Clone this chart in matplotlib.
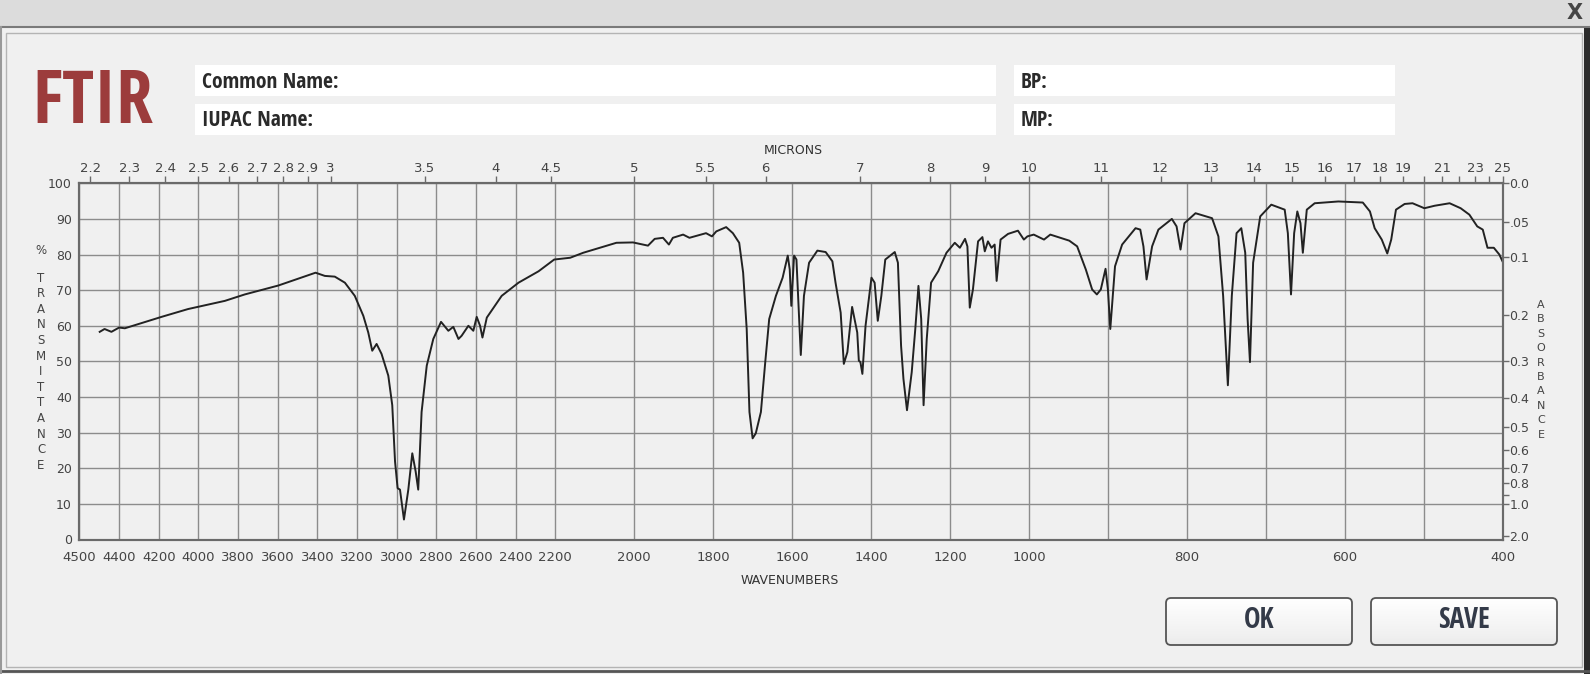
import numpy as np
import matplotlib
matplotlib.use("Agg")
import matplotlib.pyplot as plt
from matplotlib.patches import Rectangle, FancyBboxPatch

# --- spectrum (wavenumber in cm-1, %T) ---
wavenumber = [4448, 4436, 4419, 4400, 4371, 4186, 4052, 3866, 3766, 3597,
              3409, 3362, 3312, 3261, 3211, 3168, 3143, 3123, 3101, 3076,
              3042, 3022, 3008, 2995, 2983, 2963, 2941, 2921, 2904, 2891,
              2874, 2848, 2815, 2776, 2739, 2714, 2688, 2672, 2638, 2613,
              2596, 2579, 2567, 2545, 2470, 2385, 2284, 2205,
              2162, 2129, 2087, 2045, 2003, 1965, 1948, 1927, 1912, 1902,
              1876, 1860, 1818, 1803, 1792, 1767, 1750, 1734, 1724, 1715,
              1708, 1700, 1692, 1679, 1668, 1658, 1641, 1624, 1611, 1606,
              1602, 1595, 1589, 1582, 1578, 1570, 1557, 1536, 1515, 1498,
              1490, 1477, 1469, 1460, 1448, 1435, 1431, 1427, 1422, 1414,
              1399, 1391, 1383, 1374, 1364, 1340, 1332, 1324, 1318, 1309,
              1297, 1288, 1280, 1273, 1267, 1259, 1248, 1230, 1209, 1188,
              1175, 1162, 1156, 1150, 1142, 1129, 1118, 1112, 1104, 1095,
              1087, 1082, 1072, 1053, 1028, 1013, 1004,
              994, 981, 973, 949, 939, 928, 920, 914, 909, 903,
              900, 897, 891, 882, 865, 859, 855, 851, 844, 836,
              819, 813, 808, 803, 789, 768, 760, 754, 748, 743,
              737, 731, 726, 723, 720, 716, 707, 693, 676, 672,
              668, 664, 660, 656, 653, 648, 638, 608, 577, 568,
              562, 553, 546, 541, 535, 524, 514, 499, 486, 467,
              453, 442, 432, 425, 419, 411, 404, 400]
transmittance = [58.3, 59.1, 58.3, 59.5, 59.3, 62.5, 64.7, 67.0, 68.8, 71.3,
                 74.9, 74.0, 73.8, 72.1, 68.4, 62.8, 58.1, 53.0, 54.9, 52.1,
                 46.0, 37.7, 21.9, 14.4, 14.0, 5.6, 14.0, 24.2, 19.1, 14.0,
                 35.8, 48.8, 56.3, 61.1, 58.6, 59.7, 56.3, 57.2, 60.0, 58.6,
                 62.5, 60.0, 56.7, 62.3, 68.4, 72.1, 75.3, 78.6,
                 79.1, 80.5, 81.9, 83.3, 83.4, 82.5, 84.4, 84.7, 82.8, 84.7,
                 85.6, 84.7, 86.0, 85.1, 86.5, 87.7, 86.0, 83.3, 74.9, 59.1,
                 35.8, 28.4, 29.8, 35.8, 49.8, 61.9, 68.4, 73.5, 79.7, 75.8,
                 65.6, 79.7, 78.6, 61.9, 51.8, 68.4, 77.7, 81.1, 80.7, 78.1,
                 72.1, 63.7, 49.3, 52.6, 65.3, 58.1, 50.2, 49.8, 46.5, 60.0,
                 73.5, 72.1, 61.4, 68.4, 78.6, 80.7, 77.7, 54.4, 45.1, 36.3,
                 47.0, 59.1, 71.2, 61.9, 37.7, 56.3, 72.1, 75.3, 80.5, 83.3,
                 81.9, 84.4, 82.3, 65.1, 70.2, 83.7, 84.9, 80.9, 83.7, 81.9,
                 82.8, 72.6, 84.2, 85.8, 86.7, 84.2, 85.1,
                 85.6, 84.2, 85.6, 83.9, 82.3, 75.8, 70.2, 68.8, 70.2, 76.0,
                 70.2, 59.1, 76.7, 82.8, 87.4, 87.0, 82.3, 73.0, 82.3, 87.0,
                 90.0, 87.9, 81.4, 88.8, 91.6, 90.2, 85.1, 68.4, 43.3, 68.4,
                 86.0, 87.4, 80.5, 61.9, 49.8, 77.7, 90.7, 94.0, 92.6, 86.0,
                 68.8, 86.0, 92.1, 88.8, 80.5, 92.6, 94.4, 94.9, 94.6, 92.1,
                 87.4, 84.2, 80.3, 84.2, 92.6, 94.2, 94.4, 93.0, 93.7, 94.4,
                 93.0, 91.2, 87.9, 87.0, 81.9, 81.9, 80.0, 78.1]

bottom_ticks = [4500, 4400, 4200, 4000, 3800, 3600, 3400, 3200, 3000, 2800,
                2600, 2400, 2200, 2000, 1800, 1600, 1400, 1200, 1000, 800, 600, 400]
bottom_minor = [900, 700, 500]
y_ticks = list(range(0, 101, 10))
absorbance_ticks = [0.0, 0.05, 0.1, 0.2, 0.3, 0.4, 0.5, 0.6, 0.7, 0.8, 1.0, 2.0]
absorbance_labels = ["0.0", ".05", "0.1", "0.2", "0.3", "0.4", "0.5", "0.6",
                     "0.7", "0.8", "1.0", "2.0"]
micron_ticks = [2.2, 2.3, 2.4, 2.5, 2.6, 2.7, 2.8, 2.9, 3, 3.5, 4, 4.5, 5, 5.5,
                6, 7, 8, 9, 10, 11, 12, 13, 14, 15, 16, 17, 18, 19, 21, 23, 25]
micron_minor = [20, 22, 24]

# piecewise-linear wavenumber axis (compressed above 2200 and 1000 cm-1)
# forward maps to minus pixel offset so the function increases with wavenumber
WN_BREAKS = [0, 400, 1000, 2200, 4400, 4500, 20000]
POS_BREAKS = [-(1423.8 + 400 * 0.789), -1423.8, -950.3, -476.5, -40.4, 0.0, 15500 * 0.404]
# top micron axis follows the 4400-2200 slope out past 4500
WN_TOP = [0, 400, 1000, 2200, 20000]
POS_TOP = [1423.8 + 400 * 0.789, 1423.8, 950.3, 476.5, 476.5 - 17800 * 0.19823]


def wn_to_pos(w):
    return np.interp(w, WN_BREAKS, POS_BREAKS)


def pos_to_wn(p):
    return np.interp(p, POS_BREAKS, WN_BREAKS)


def um_to_pos(u):
    u = np.maximum(np.asarray(u, dtype=float), 1e-3)
    return np.interp(10000.0 / u, WN_TOP, POS_TOP)


def pos_to_um(p):
    return 10000.0 / np.maximum(np.interp(p, POS_TOP[::-1], WN_TOP[::-1]), 1e-3)


W, H = 1590, 674
NARROW = ["Open Sans Condensed", "Roboto Condensed", "DejaVu Sans Condensed",
          "Liberation Sans Narrow", "DejaVu Sans"]
fig = plt.figure(figsize=(W / 100, H / 100), dpi=100, facecolor="#f0f0f0")

# window chrome drawn in pixel coordinates
bg = fig.add_axes([0, 0, 1, 1], zorder=0)
bg.add_patch(Rectangle((0, 0), W, 27, facecolor="#dcdcdc", edgecolor="none"))
bg.plot([0, W], [27, 27], color="#7a7a7a", lw=1.5)
bg.add_patch(Rectangle((6, 33), 1576, 634, facecolor="#f0f0f0", edgecolor="#b4b4b4", lw=1))
bg.add_patch(Rectangle((1584, 27), 6, H, facecolor="#2b2b2b", edgecolor="none"))
bg.plot([0, W], [671, 671], color="#555555", lw=2)
bg.plot([1, 1], [27, H], color="#999999", lw=1.5)
bg.text(1575, 13, "X", ha="center", va="center", fontsize=15, fontweight="bold", color="#444444")

bg.text(32, 104, "FTIR", ha="left", va="center", fontsize=53, fontweight="bold",
        fontstretch="condensed", color="#9c3c3c", family=NARROW)
for (x0, y0, w, h, label) in [(195, 65, 801, 31, "Common Name:"), (195, 104, 801, 31, "IUPAC Name:"),
                              (1014, 65, 381, 31, "BP:"), (1014, 104, 381, 31, "MP:")]:
    bg.add_patch(Rectangle((x0, y0), w, h, facecolor="white", edgecolor="none"))
    bg.text(x0 + 7, y0 + h / 2 + 1.5, label, ha="left", va="center", fontsize=15.5,
            fontweight="semibold", fontstretch="condensed", color="#2a2a2a", family=NARROW)

# buttons
grad = np.linspace(0, 1, 50).reshape(-1, 1)
for (x0, label) in [(1166, "OK"), (1371, "SAVE")]:
    btn = FancyBboxPatch((x0, 598), 186, 47, boxstyle="round,pad=0,rounding_size=5",
                         facecolor="none", edgecolor="#555555", lw=1.3, zorder=3)
    bg.add_patch(btn)
    im = bg.imshow(grad, extent=(x0, x0 + 186, 645, 598), cmap="Greys", vmin=0, vmax=6.5,
                   aspect="auto", zorder=2)
    im.set_clip_path(btn)
    bg.text(x0 + 93, 621, label, ha="center", va="center", fontsize=20, fontweight="bold",
            fontstretch="condensed", color="#333a48", family=NARROW, zorder=4)
bg.set_xlim(0, W)
bg.set_ylim(H, 0)
bg.axis("off")

# axis captions
bg.text(793, 151, "MICRONS", ha="center", va="center", fontsize=9, color="#333333")
bg.text(790, 580, "WAVENUMBERS", ha="center", va="center", fontsize=9, color="#333333")
bg.text(41, 250, "%", ha="center", va="center", fontsize=8.5, color="#444444")
for i, ch in enumerate("TRANSMITTANCE"):
    bg.text(41, 278 + i * 15.6, ch, ha="center", va="center", fontsize=8.5, color="#444444")
for i, ch in enumerate("ABSORBANCE"):
    bg.text(1541, 305 + i * 14.4, ch, ha="center", va="center", fontsize=8, color="#444444")

# spectrum axes
rect = [78.7 / W, (H - 539.5) / H, 1423.8 / W, 356.2 / H]
ax = fig.add_axes(rect, zorder=2)
ax.set_facecolor("#f0f0f0")
ax.set_xscale("function", functions=(wn_to_pos, pos_to_wn))
ax.set_xlim(4500, 400)
ax.set_ylim(0, 100)
ax.set_axisbelow(True)
ax.plot(wavenumber, transmittance, color="#222222", lw=1.4, zorder=3)

ax.set_xticks(bottom_ticks)
ax.set_xticklabels([str(t) for t in bottom_ticks])
ax.set_xticks(bottom_minor, minor=True)
ax.set_yticks(y_ticks)
ax.tick_params(axis="x", which="both", length=0, pad=8.5, labelsize=9.5, labelcolor="#444444")
ax.tick_params(axis="y", length=0, pad=5, labelsize=9, labelcolor="#444444")
ax.grid(True, which="both", axis="x", color="#8c8c8c", lw=1.0)
ax.grid(True, which="major", axis="y", color="#8c8c8c", lw=1.0)
for s in ax.spines.values():
    s.set_color("#6a6a6a")
    s.set_linewidth(1.5)

# absorbance scale on the right
ax_r = ax.twinx()
ax_r.set_ylim(0, 100)
ax_r.set_yticks([100 * 10 ** (-a) for a in absorbance_ticks])
ax_r.set_yticklabels(absorbance_labels)
ax_r.set_yticks([100 * 10 ** (-0.9)], minor=True)
ax_r.tick_params(axis="y", which="both", direction="out", length=4, width=1, color="#6a6a6a",
                 pad=1, labelsize=9, labelcolor="#444444")
for s in ax_r.spines.values():
    s.set_color("#6a6a6a")
    s.set_linewidth(1.5)

# micron scale on top
ax_t = fig.add_axes(rect, zorder=3)
ax_t.patch.set_visible(False)
for s in ax_t.spines.values():
    s.set_visible(False)
ax_t.set_xscale("function", functions=(um_to_pos, pos_to_um))
ax_t.set_xlim(10000 / 4603.8, 25)
ax_t.yaxis.set_visible(False)
ax_t.xaxis.tick_top()
ax_t.set_xticks(micron_ticks)
ax_t.set_xticklabels([("%g" % m) for m in micron_ticks])
ax_t.set_xticks(micron_minor, minor=True)
ax_t.tick_params(axis="x", which="both", direction="out", length=5, width=1, color="#6a6a6a",
                 pad=1, labelsize=9.5, labelcolor="#444444")

fig.savefig("out.png", dpi=100, facecolor=fig.get_facecolor())
